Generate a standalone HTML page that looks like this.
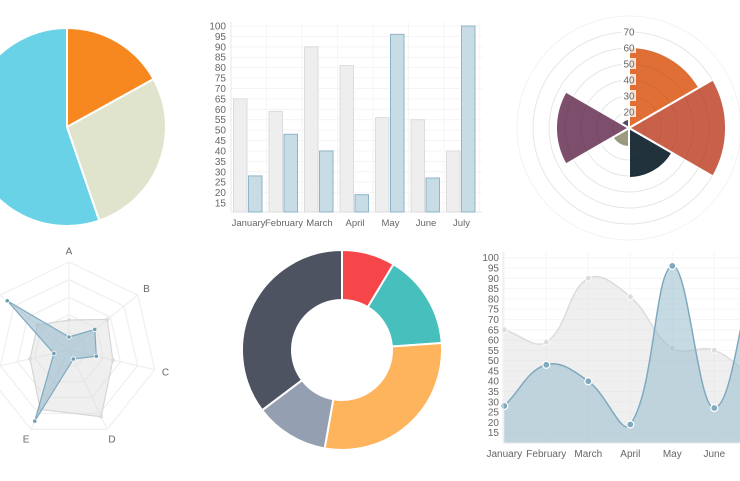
<!DOCTYPE html>
<html><head><meta charset="utf-8"><style>
html,body{margin:0;padding:0;background:#fff;width:740px;height:481px;overflow:hidden}
svg{display:block;font-family:"Liberation Sans",sans-serif}
</style></head><body>
<svg id="s" width="740" height="481" viewBox="0 0 740 481" xmlns="http://www.w3.org/2000/svg">
<g id="g"></g>
</svg>
<script>
var g=document.getElementById('g'),h='';
function rad(a){return (a-90)*Math.PI/180;}
function pt(cx,cy,r,a){return [cx+r*Math.cos(rad(a)),cy+r*Math.sin(rad(a))];}
function sector(cx,cy,r0,r1,a0,a1,fill,stroke,sw){
 var p1=pt(cx,cy,r1,a0),p2=pt(cx,cy,r1,a1),lg=(a1-a0)>180?1:0,d;
 if(r0>0){var p3=pt(cx,cy,r0,a1),p4=pt(cx,cy,r0,a0);
  d='M'+p1+'A'+r1+','+r1+' 0 '+lg+' 1 '+p2+'L'+p3+'A'+r0+','+r0+' 0 '+lg+' 0 '+p4+'Z';}
 else d='M'+cx+','+cy+'L'+p1+'A'+r1+','+r1+' 0 '+lg+' 1 '+p2+'Z';
 return '<path d="'+d+'" fill="'+fill+'" stroke="'+(stroke||'#fff')+'" stroke-width="'+(sw==null?2:sw)+'"/>';
}
// Pie
h+=sector(67,127,0,99,0,61,'#F7871F');
h+=sector(67,127,0,99,61,161,'#E0E4CC');
h+=sector(67,127,0,99,161,360,'#69D2E7');
// Bar chart
var G=[65,59,90,81,56,55,40],B=[28,48,40,19,96,27,100],M=['January','February','March','April','May','June','July'];
function by(v){return 26+(100-v)*177/85;}
for(var v=15;v<=100;v+=5){var y=by(v);h+='<line x1="230" x2="482" y1="'+y+'" y2="'+y+'" stroke="#f4f4f4"/>';
 h+='<text x="226" y="'+(y+3.5)+'" font-size="10" fill="#666" text-anchor="end">'+v+'</text>';}
for(var i=0;i<=7;i++){var x=231+i*35.5;h+='<line x1="'+x+'" x2="'+x+'" y1="22" y2="212" stroke="#f6f6f6"/>';}
h+='<line x1="231" x2="482" y1="212" y2="212" stroke="#e8e8e8"/><line x1="231" x2="231" y1="22" y2="212" stroke="#e8e8e8"/>';
for(i=0;i<7;i++){var x0=231+i*35.5;
 h+='<rect x="'+(x0+2.5)+'" y="'+by(G[i])+'" width="13.5" height="'+(212-by(G[i]))+'" fill="#eeeeee" stroke="#dcdcdc"/>';
 h+='<rect x="'+(x0+17.5)+'" y="'+by(B[i])+'" width="13.5" height="'+(212-by(B[i]))+'" fill="#c8dce6" stroke="#8fb5c8"/>';
 h+='<text x="'+(x0+17.5)+'" y="226" font-size="9.5" fill="#666" text-anchor="middle">'+M[i]+'</text>';}
// Polar area
var pcx=629,pcy=128;
for(var r=16;r<=112;r+=16)h+='<circle cx="'+pcx+'" cy="'+pcy+'" r="'+r+'" fill="none" stroke="#f3f3f3"/>';
var PS=[[0,60,81,'#DF6F35'],[60,120,97,'#C9604A'],[120,180,50,'#21323D'],[180,240,19,'#9D9B7F'],[240,300,73,'#7D4F6D'],[300,360,9,'#584A5E']];
PS.forEach(function(s){h+=sector(pcx,pcy,0,s[2],s[0],s[1],s[3],'#fff',2);});
for(r=16;r<=96;r+=16)h+='<circle cx="'+pcx+'" cy="'+pcy+'" r="'+r+'" fill="none" stroke="rgba(0,0,0,0.05)"/>';
for(v=20;v<=70;v+=10){var y=pcy-(v-10)*1.6;
 h+='<rect x="'+(pcx-8)+'" y="'+(y-6)+'" width="15" height="11" fill="rgba(255,255,255,0.8)"/>';
 h+='<text x="'+pcx+'" y="'+(y+3.5)+'" font-size="10" fill="#666" text-anchor="middle">'+v+'</text>';}
// Radar
var rcx=69,rcy=350,N=7,OR=88;
function rp(i,r){return pt(rcx,rcy,r,i*360/N);}
for(var k=1;k<=5;k++){var ps=[];for(i=0;i<N;i++)ps.push(rp(i,OR*k/5));
 h+='<polygon points="'+ps.join(' ')+'" fill="none" stroke="#efefef" stroke-width="1.2"/>';}
for(i=0;i<N;i++)h+='<line x1="'+rcx+'" y1="'+rcy+'" x2="'+rp(i,OR)[0]+'" y2="'+rp(i,OR)[1]+'" stroke="#efefef" stroke-width="1.2"/>';
var RG=[30,49,45,74,66,40,40],RB=[13,33,28,10,79,15.5,79];
var pg=RG.map(function(r,i){return rp(i,r);}),pb=RB.map(function(r,i){return rp(i,r);});
h+='<polygon points="'+pg.join(' ')+'" fill="rgba(220,220,220,0.45)" stroke="#d6d6d6" stroke-width="1.2"/>';
pg.forEach(function(p){h+='<circle cx="'+p[0]+'" cy="'+p[1]+'" r="2" fill="#dcdcdc"/>';});
h+='<polygon points="'+pb.join(' ')+'" fill="rgba(151,187,205,0.6)" stroke="#7fa9bf" stroke-width="1.2"/>';
pb.forEach(function(p){h+='<circle cx="'+p[0]+'" cy="'+p[1]+'" r="2.2" fill="#6f9db5" stroke="#fff" stroke-width="0.8"/>';});
var L=['A','B','C','D','E','F','G'];
for(i=0;i<N;i++){var p=rp(i,99);h+='<text x="'+p[0]+'" y="'+(p[1]+3.5)+'" font-size="10" fill="#666" text-anchor="middle">'+L[i]+'</text>';}
// Donut
var dcx=342,dcy=350;
var DS=[[0,31,'#F7464A'],[31,86,'#46BFBD'],[86,190,'#FDB45C'],[190,233,'#949FB1'],[233,360,'#4D5360']];
DS.forEach(function(s){h+=sector(dcx,dcy,50,100,s[0],s[1],s[2],'#fff',2);});
// Line chart
function ly(v){return 257.7+(100-v)*2.059;}
function lx(i){return 504.3+i*42;}
for(v=15;v<=100;v+=5){var y=ly(v);h+='<line x1="503" x2="740" y1="'+y+'" y2="'+y+'" stroke="#f6f6f6"/>';
 h+='<text x="499" y="'+(y+3.5)+'" font-size="10" fill="#666" text-anchor="end">'+v+'</text>';}
for(i=0;i<7;i++)h+='<line x1="'+lx(i)+'" x2="'+lx(i)+'" y1="252" y2="443" stroke="#f6f6f6"/>';
function spline(data){
 var P=data.map(function(v,i){return {x:lx(i),y:ly(v)};});
 P.forEach(function(c,i){var pv=P[i-1]||c,nx=P[i+1]||c;
  var d01=Math.hypot(c.x-pv.x,c.y-pv.y),d12=Math.hypot(nx.x-c.x,nx.y-c.y),s=d01+d12||1;
  var fa=0.4*d01/s,fb=0.4*d12/s;
  c.ix=c.x-fa*(nx.x-pv.x);c.iy=c.y-fa*(nx.y-pv.y);c.ox=c.x+fb*(nx.x-pv.x);c.oy=c.y+fb*(nx.y-pv.y);});
 var d='M'+P[0].x+','+P[0].y;
 for(var i=1;i<P.length;i++)d+='C'+P[i-1].ox+','+P[i-1].oy+' '+P[i].ix+','+P[i].iy+' '+P[i].x+','+P[i].y;
 return {d:d,P:P};}
var s1=spline(G),s2=spline(B);
h+='<path d="'+s1.d+'L'+lx(6)+',443L'+lx(0)+',443Z" fill="rgba(220,220,220,0.45)"/>';
h+='<path d="'+s1.d+'" fill="none" stroke="#dcdcdc" stroke-width="1.5"/>';
s1.P.forEach(function(p){h+='<circle cx="'+p.x+'" cy="'+p.y+'" r="3" fill="#dcdcdc" stroke="#fff"/>';});
h+='<path d="'+s2.d+'L'+lx(6)+',443L'+lx(0)+',443Z" fill="rgba(151,187,205,0.55)"/>';
h+='<path d="'+s2.d+'" fill="none" stroke="#7fa9bf" stroke-width="1.5"/>';
s2.P.forEach(function(p){h+='<circle cx="'+p.x+'" cy="'+p.y+'" r="3.5" fill="#7fa9bf" stroke="#fff" stroke-width="1.2"/>';});
h+='<line x1="503" x2="740" y1="443" y2="443" stroke="#e8e8e8"/><line x1="503" x2="503" y1="252" y2="443" stroke="#e8e8e8"/>';
for(i=0;i<7;i++)h+='<text x="'+lx(i)+'" y="457" font-size="10" fill="#666" text-anchor="middle">'+M[i]+'</text>';
g.innerHTML=h;
</script>
</body></html>
